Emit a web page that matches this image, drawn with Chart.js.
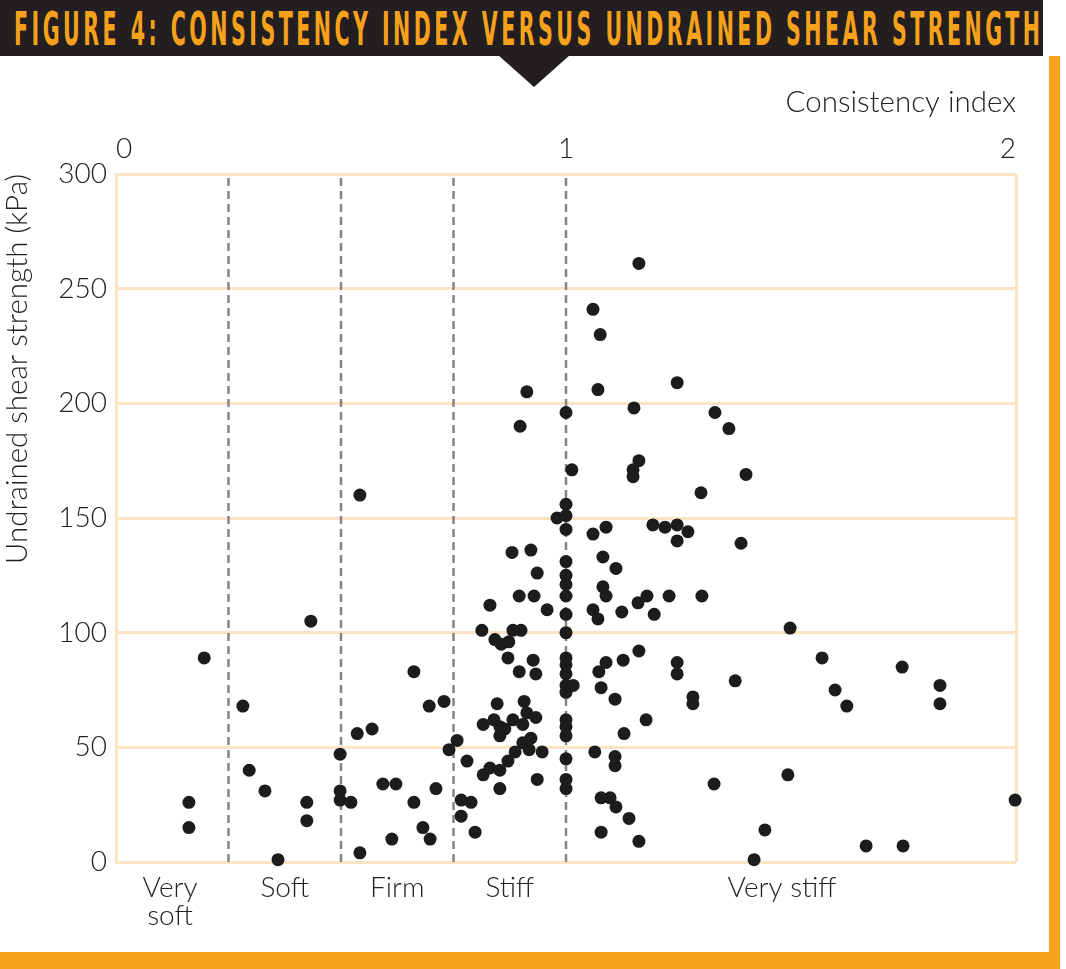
<!DOCTYPE html>
<html><head><meta charset="utf-8">
<script src="https://cdn.jsdelivr.net/npm/chart.js@4.4.1/dist/chart.umd.min.js"></script>
<style>
html,body{margin:0;padding:0;background:#fff;}
body{width:1066px;height:969px;position:relative;overflow:hidden;}
#wrap{position:absolute;left:0;top:0;width:1066px;height:969px;}
#banner{position:absolute;left:0;top:0;width:1043px;height:56px;background:#231f20;overflow:hidden;}
#title{position:absolute;left:14px;top:6px;white-space:nowrap;color:#f5a11c;font-family:"DejaVu Sans Condensed","Liberation Sans Narrow",sans-serif;font-weight:bold;font-size:46px;line-height:46px;letter-spacing:7px;transform-origin:0 0;}
#arrow{position:absolute;left:498px;top:55px;width:0;height:0;border-left:36px solid transparent;border-right:36px solid transparent;border-top:32px solid #231f20;}
#rbar{position:absolute;left:1049px;top:56px;width:11px;height:913px;background:#f5a11c;}
#bbar{position:absolute;left:0;top:952px;width:1060px;height:17px;background:#f5a11c;}
</style></head>
<body>
<div id="wrap"><canvas id="c" width="1066" height="969"></canvas></div>
<div id="banner"><div id="title">FIGURE 4: CONSISTENCY INDEX VERSUS UNDRAINED SHEAR STRENGTH</div></div>
<div id="arrow"></div>
<div id="rbar"></div>
<div id="bbar"></div>
<script>
const consistencyIndex = [
  0.196,0.162,0.162,0.282,0.296,0.331,0.36,0.424,0.424,0.433,
  0.498,0.498,0.498,0.522,0.536,0.542,0.542,0.569,0.593,0.622,
  0.613,0.662,0.662,0.682,0.696,0.698,0.711,0.729,0.74,0.758,
  0.767,0.767,0.78,0.789,0.798,0.813,0.816,0.816,0.831,0.831,
  0.84,0.842,0.847,0.853,0.853,0.853,0.853,0.856,0.864,0.871,
  0.871,0.873,0.88,0.882,0.882,0.887,0.896,0.896,0.898,0.9,
  0.904,0.904,0.907,0.913,0.913,0.918,0.922,0.922,0.927,0.929,
  0.933,0.933,0.936,0.936,0.947,0.958,0.98,
  1,1,1,1,1,1,1,1,1,1,1,1,1,1,1,1,1,1,1,1,1,
  1.016,1.013,1.06,1.06,1.06,1.064,1.071,1.071,1.073,1.076,
  1.078,1.078,1.078,1.082,1.082,1.089,1.089,1.089,1.098,1.109,
  1.109,1.109,1.111,1.111,1.124,1.127,1.129,1.14,1.149,1.149,
  1.151,1.16,1.162,1.162,1.162,1.162,1.178,1.18,1.193,1.196,
  1.22,1.229,1.247,1.247,1.247,1.247,1.247,1.271,1.282,1.282,
  1.3,1.302,1.329,1.331,1.362,1.376,1.389,1.4,1.418,1.442,
  1.493,1.498,1.569,1.598,1.624,1.667,1.747,1.749,1.831,1.831,
  1.998
];
const shearStrength = [
  89,26,15,68,40,31,1,26,18,105,
  47,31,27,26,56,160,4,58,34,34,
  10,83,26,15,68,10,32,70,49,53,
  27,20,44,26,13,101,60,38,112,41,
  62,97,69,59,55,40,32,95,58,89,
  44,96,135,101,62,48,116,83,190,101,
  60,52,70,205,65,49,136,54,88,116,
  82,63,126,36,48,110,150,
  196,156,151,145,131,125,121,116,108,100,89,86,82,77,74,62,59,55,45,36,32,
  77,171,241,143,110,48,206,106,83,230,
  76,28,13,133,120,146,116,87,28,71,
  46,42,128,24,109,88,56,19,171,168,
  198,113,261,175,92,9,62,116,147,108,
  146,116,209,147,140,87,82,144,72,69,
  161,116,34,196,189,79,139,169,1,14,
  38,102,89,75,68,7,85,7,77,69,
  27
];
const zoneBoundaries = [0.25, 0.5, 0.75, 1];
const zoneNames = [["Very","soft"],["Soft"],["Firm"],["Stiff"],["Very stiff"]];
const zoneLabelX = [0.12, 0.375, 0.625, 0.875, 1.48];
const xTicks = [0, 1, 2];
const yTicks = [0, 50, 100, 150, 200, 250, 300];

const gridColor = '#fce3c1';
const textColor = '#222222';
const fontFamily = 'Lato, "Open Sans", sans-serif';

const points = consistencyIndex.map((x, i) => ({x: x, y: shearStrength[i]}));
const boundaryDatasets = zoneBoundaries.map(b => ({
  type: 'line',
  data: [{x: b, y: 0}, {x: b, y: 300}],
  borderColor: '#858585',
  borderWidth: 2.5,
  borderDash: [8, 5],
  pointRadius: 0,
  fill: false,
  order: 2
}));

const zoneLabelPlugin = {
  id: 'zoneLabels',
  afterDraw(chart) {
    const {ctx, chartArea} = chart;
    const x = chart.scales.x;
    ctx.save();
    ctx.font = '300 28px ' + fontFamily;
    ctx.fillStyle = textColor;
    ctx.textAlign = 'center';
    ctx.textBaseline = 'alphabetic';
    zoneNames.forEach((lines, i) => {
      const px = x.getPixelForValue(zoneLabelX[i]);
      lines.forEach((t, j) => ctx.fillText(t, px, chartArea.bottom + 35 + j * 28));
    });
    ctx.restore();
  }
};

new Chart(document.getElementById('c'), {
  type: 'scatter',
  data: {
    datasets: [
      {
        data: points,
        backgroundColor: '#1c1c1c',
        borderWidth: 0,
        pointRadius: 6.5,
        pointHoverRadius: 6.5,
        clip: false,
        order: 0
      },
      ...boundaryDatasets
    ]
  },
  options: {
    responsive: false,
    animation: false,
    events: [],
    layout: {padding: {top: 80, left: 0, right: 50, bottom: 107}},
    plugins: {legend: {display: false}, tooltip: {enabled: false}},
    scales: {
      x: {
        type: 'linear', position: 'top', min: 0, max: 2,
        afterBuildTicks: s => { s.ticks = xTicks.map(v => ({value: v})); },
        afterFit: s => { s.height = 94; },
        ticks: {align: 'inner', padding: 8, color: textColor, font: {family: fontFamily, size: 28, weight: 300}},
        grid: {drawTicks: false, lineWidth: 3, color: c => (c.tick && c.tick.value === 1) ? 'rgba(0,0,0,0)' : gridColor},
        border: {display: false},
        title: {display: true, text: 'Consistency index', align: 'end', color: textColor,
                font: {family: fontFamily, size: 29.5, weight: 300}, padding: {top: 5, bottom: 0}}
      },
      y: {
        type: 'linear', min: 0, max: 300,
        afterBuildTicks: s => { s.ticks = yTicks.map(v => ({value: v})); },
        afterFit: s => { s.width = 116; },
        ticks: {padding: 9, color: textColor, font: {family: fontFamily, size: 28, weight: 300}},
        grid: {drawTicks: false, lineWidth: 3, color: gridColor},
        border: {display: true, color: gridColor, width: 3},
        title: {display: true, text: 'Undrained shear strength (kPa)', align: 'end', color: textColor,
                font: {family: fontFamily, size: 29.5, weight: 300}, padding: {top: 0, bottom: 0}}
      }
    }
  },
  plugins: [zoneLabelPlugin]
});

(function fitTitle() {
  const t = document.getElementById('title');
  const w = t.scrollWidth - 7;
  const target = 1026;
  t.style.transform = 'scaleX(' + (target / w) + ')';
})();
</script>
</body></html>
